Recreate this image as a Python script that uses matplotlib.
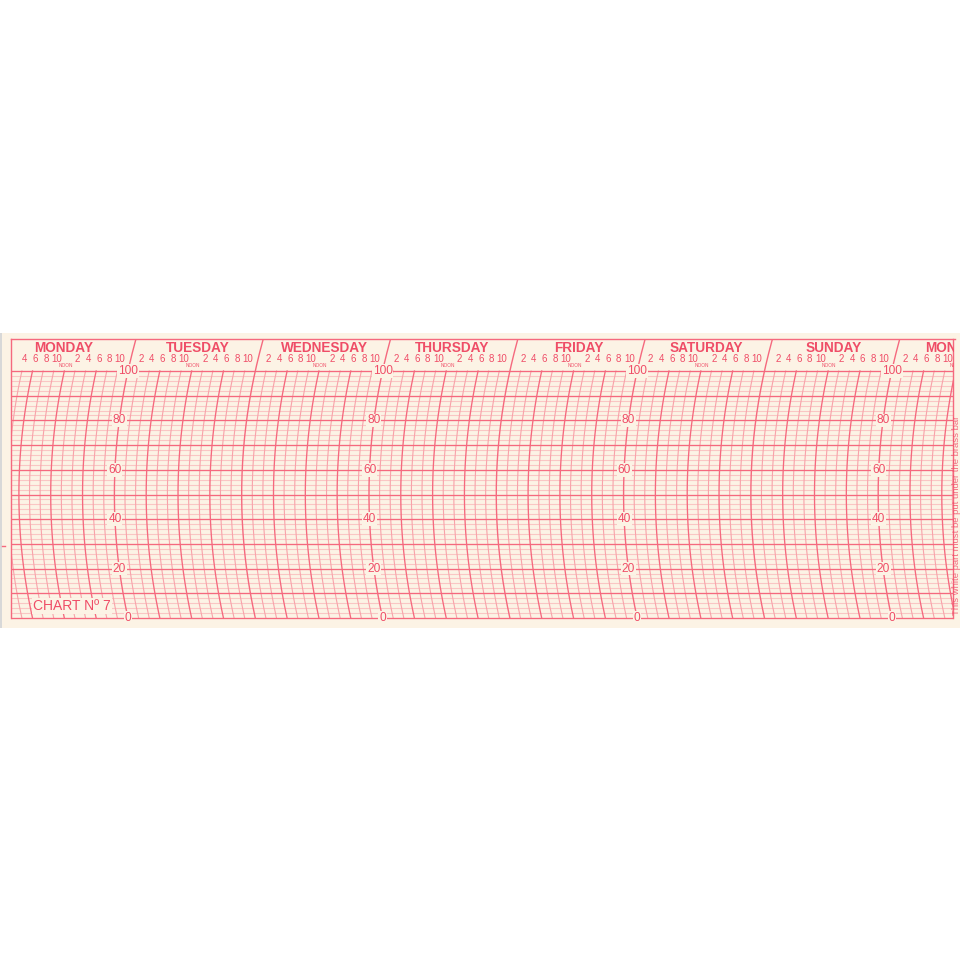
import numpy as np
import matplotlib
matplotlib.use("Agg")
import matplotlib.pyplot as plt
from matplotlib.patches import Rectangle

# ---- chart content ----
day_names = ["MONDAY", "TUESDAY", "WEDNESDAY", "THURSDAY", "FRIDAY",
             "SATURDAY", "SUNDAY", "MONDAY"]
day_name_hour = [10.8, 12, 12, 12, 12, 12, 12, 10.8]
hour_ticks = [2, 4, 6, 8, 10, 14, 16, 18, 20, 22]
hour_labels = ["2", "4", "6", "8", "10", "2", "4", "6", "8", "10"]
first_day_skip = [2]          # hours not printed on the first (partial) day
value_ticks = [0, 20, 40, 60, 80, 100]
value_label_days = [1, 3, 5, 7]   # midnights carrying the value scale
chart_title = "CHART N\u00ba 7"
side_note = "This white part must be put under the brass bar"

# ---- geometry / style ----
PX_PER_H = 5.304
PX_PER_V = 2.47
R = 560.0
X0 = -0.7 / PX_PER_H
X1 = X0 + 960 / PX_PER_H
Y1 = 100 + 371 / PX_PER_V
Y0 = Y1 - 960 / PX_PER_V

PAPER = "#fcf3e5"
TXT = "#ef4d67"
MAJ = "#f5697e"
MINV = "#f8a3aa"
MINH = "#fac6c4"


def px2x(px):
    return X0 + px / PX_PER_H


def py2v(py):
    return Y1 - py / PX_PER_V


def shift(v):
    h = (np.asarray(v) - 50) * PX_PER_V
    H = 50 * PX_PER_V
    return (h ** 2 - H ** 2) / (2 * R) / PX_PER_H


fig = plt.figure(figsize=(9.6, 9.6), dpi=100, facecolor="white")
ax = fig.add_axes([0, 0, 1, 1])
ax.set_xlim(X0, X1)
ax.set_ylim(Y0, Y1)
ax.axis("off")

gx0, gx1 = px2x(11), px2x(953)
vtop = py2v(339)

# paper
ax.add_patch(Rectangle((px2x(2), py2v(628)), X1 - px2x(2), py2v(333) - py2v(628),
                       facecolor=PAPER, edgecolor="none", zorder=0))
ax.add_patch(Rectangle((X0, py2v(628)), px2x(2) - X0, py2v(333) - py2v(628),
                       facecolor="#d8d8d8", edgecolor="none", zorder=0))

head_clip = Rectangle((gx0, 100), px2x(954) - gx0, vtop - 100 + 1, transform=ax.transData)
full_clip = Rectangle((gx0, 0), gx1 - gx0, vtop, transform=ax.transData)

# horizontal lines
for v in range(0, 101, 2):
    major = v % 10 == 0
    ax.plot([gx0, gx1], [v, v], color=MAJ if major else MINH,
            lw=0.95 if major else 0.8, zorder=2 if major else 1,
            solid_capstyle="butt")

# vertical arcs
vv = np.linspace(0, 100, 120)
vv_ext = np.linspace(0, vtop, 140)
n_days = len(day_names)
for k in range(0, n_days * 12 + 1):
    t = 2 * k
    if t % 24 == 0:
        ys = vv_ext
        color, lw, z = MAJ, 1.0, 3
    elif t % 6 == 0:
        ys = vv
        color, lw, z = MAJ, 0.95, 3
    else:
        ys = vv
        color, lw, z = MINV, 0.8, 1.5
    ln, = ax.plot(t + shift(ys), ys, color=color, lw=lw, zorder=z)
    ln.set_clip_path(full_clip)

# borders
ax.plot([gx0, gx0], [0, vtop], color=MAJ, lw=1.0, zorder=3)
ax.plot([gx1, gx1], [0, vtop], color=MAJ, lw=1.0, zorder=3)
ax.plot([gx0, px2x(955)], [vtop, vtop], color=MAJ, lw=1.0, zorder=3)


def clipped(tt):
    tt.set_clip_on(True)
    tt.set_clip_path(head_clip)


# header text
v_name = py2v(347.5)
v_hour = py2v(359)
v_noon = py2v(365.5)
for d, name in enumerate(day_names):
    base = 24 * d
    clipped(ax.text(base + day_name_hour[d] + shift(v_name), v_name, name,
                    ha="center", va="center", fontsize=9.8, fontweight="bold",
                    family="Liberation Sans", color=TXT, zorder=5))
    for h, lab in zip(hour_ticks, hour_labels):
        if d == 0 and h in first_day_skip:
            continue
        clipped(ax.text(base + h + shift(v_hour), v_hour, lab, ha="center", va="center",
                        fontsize=7.0, family="Liberation Sans", color=TXT, zorder=5))
    clipped(ax.text(base + 12 + shift(v_noon), v_noon, "NOON", ha="center", va="center",
                    fontsize=3.4, family="Liberation Sans", color=TXT, zorder=5))

# value scale labels
for d in value_label_days:
    for v in value_ticks:
        ax.text(24 * d + shift(v), v, str(v), ha="center", va="center",
                fontsize=8.6, family="Liberation Sans", color=TXT, zorder=6,
                bbox=dict(facecolor=PAPER, edgecolor="none", pad=0.6))

# chart number
ax.text(px2x(33), py2v(606), chart_title, ha="left", va="center", fontsize=10,
        family="Liberation Sans", color=TXT, zorder=6,
        bbox=dict(facecolor=PAPER, edgecolor="none", pad=0.8))

# side note
ax.text(px2x(956.5), py2v(515), side_note, rotation=90, ha="center", va="center",
        fontsize=6.8, family="Liberation Sans", color=TXT, alpha=0.8, zorder=6)

# small mark on the left edge
ax.plot([px2x(2), px2x(5)], [py2v(546), py2v(546)], color=MAJ, lw=1.0, zorder=3)

fig.savefig("out.png", dpi=100, facecolor="white")
